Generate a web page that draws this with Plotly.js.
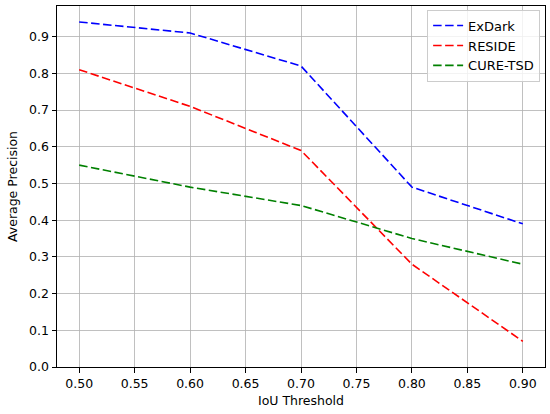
<!DOCTYPE html>
<html>
<head>
<meta charset="utf-8">
<script src="https://cdn.plot.ly/plotly-3.0.1.min.js"></script>
<style>html,body{margin:0;padding:0;background:#fff;}#chart{width:550px;height:414px;}</style>
</head>
<body>
<div id="chart"></div>
<script>
const iouThresholds = [0.50, 0.60, 0.70, 0.80, 0.90];
const exdark = [0.94, 0.91, 0.82, 0.49, 0.39];
const reside = [0.81, 0.71, 0.59, 0.28, 0.07];
const cureTsd = [0.55, 0.49, 0.44, 0.35, 0.28];
const seriesNames = ['ExDark', 'RESIDE', 'CURE-TSD'];
const xTicks = [0.50, 0.55, 0.60, 0.65, 0.70, 0.75, 0.80, 0.85, 0.90];
const yTicks = [0.0, 0.1, 0.2, 0.3, 0.4, 0.5, 0.6, 0.7, 0.8, 0.9];

const font = {family: 'DejaVu Sans, sans-serif', size: 12.5, color: '#000'};
const colors = ['#0000ff', '#ff0000', '#008000'];
const data = [exdark, reside, cureTsd].map((ys, i) => ({
  x: iouThresholds, y: ys, name: seriesNames[i], type: 'scatter', mode: 'lines',
  line: {color: colors[i], width: 1.6, dash: '8.5px,3.5px'}
}));

const axisCommon = {
  showline: true, linecolor: '#000', linewidth: 1, mirror: true,
  ticks: 'outside', ticklen: 4.5, tickwidth: 1, tickcolor: '#000',
  showgrid: true, gridcolor: '#b0b0b0', gridwidth: 0.8,
  zeroline: false, tickfont: font
};

const layout = {
  width: 550, height: 414,
  margin: {l: 57, r: 5, t: 6, b: 47},
  paper_bgcolor: '#fff', plot_bgcolor: '#fff',
  font: font,
  showlegend: true,
  xaxis: Object.assign({}, axisCommon, {
    range: [0.48, 0.92], tickvals: xTicks, ticktext: xTicks.map(v => v.toFixed(2)),
    title: {text: 'IoU Threshold', font: font, standoff: 6}
  }),
  yaxis: Object.assign({}, axisCommon, {
    range: [0, 0.9835], tickvals: yTicks, ticktext: yTicks.map(v => v.toFixed(1)),
    title: {text: 'Average Precision', font: font, standoff: 8}
  }),
  legend: {
    x: 0.99, y: 0.99, xanchor: 'right', yanchor: 'top',
    bgcolor: 'rgba(255,255,255,0.8)', bordercolor: '#cccccc', borderwidth: 1,
    font: {family: 'DejaVu Sans, sans-serif', size: 13, color: '#000'}
  }
};

Plotly.newPlot('chart', data, layout, {displayModeBar: false, staticPlot: true});
</script>
</body>
</html>
